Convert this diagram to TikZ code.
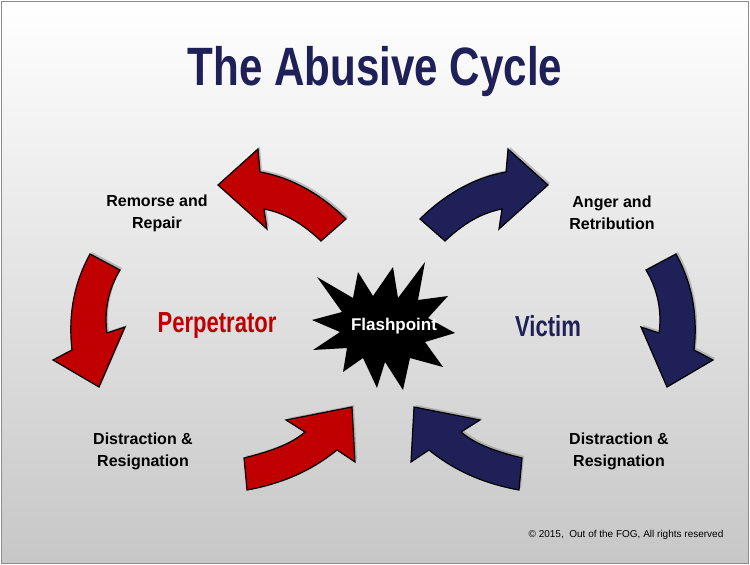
\documentclass[tikz,border=0pt]{standalone}
\usepackage{fontspec}
\setmainfont{Liberation Sans}
\usetikzlibrary{shadows}
\definecolor{navy}{RGB}{32,32,88}
\definecolor{cyclered}{RGB}{192,0,0}
\tikzset{
  arrowshape/.style={draw=black, line width=1.2pt, line join=miter, drop shadow={shadow xshift=2pt, shadow yshift=2pt, opacity=0.45}},
  stage/.style={font=\bfseries\fontsize{16}{22}\selectfont, align=center},
  side/.style={font=\bfseries\fontsize{29}{29}\selectfont}
}
\begin{document}
\begin{tikzpicture}[x=1pt,y=-1pt]
    \useasboundingbox (0,0) rectangle (750,565);
    % background
    \shade[top color=white, bottom color=black!22, draw=black!45, line width=1pt] (1.5,1.5) rectangle (748.5,563.5);
    \node (title) at (375,72) {\scalebox{0.78}[1]{\color{navy}\bfseries\fontsize{54}{54}\selectfont The Abusive Cycle}};

    % perpetrator side
    \fill[cyclered, arrowshape] (260,172) .. controls (295,178) and (325,198) .. (346,219) -- (321,241)
        .. controls (303,224) and (285,213) .. (264,209) -- (267,229) -- (218,185) -- (258,149) -- cycle;
    \fill[cyclered, arrowshape] (90,254) -- (120,270) .. controls (108,290) and (104,312) .. (107,333)
        -- (125,327) -- (99,387) -- (53,360) -- (72,350) .. controls (68,315) and (74,283) .. cycle;
    \fill[cyclered, arrowshape] (244,458) .. controls (268,452) and (290,445) .. (305,432) -- (286,420)
        -- (352,407) -- (355,462) -- (337,450) .. controls (310,472) and (280,484) .. (247,490) -- cycle;

    % victim side
    \begin{scope}[xshift=766pt, xscale=-1]
    \fill[navy, arrowshape] (260,172) .. controls (295,178) and (325,198) .. (346,219) -- (321,241)
        .. controls (303,224) and (285,213) .. (264,209) -- (267,229) -- (218,185) -- (258,149) -- cycle;
    \fill[navy, arrowshape] (90,254) -- (120,270) .. controls (108,290) and (104,312) .. (107,333)
        -- (125,327) -- (99,387) -- (53,360) -- (72,350) .. controls (68,315) and (74,283) .. cycle;
    \fill[navy, arrowshape] (244,458) .. controls (268,452) and (290,445) .. (305,432) -- (286,420)
        -- (352,407) -- (355,462) -- (337,450) .. controls (310,472) and (280,484) .. (247,490) -- cycle;
    \end{scope}

    % flashpoint
    \fill[black] (317,277) -- (353,298) -- (358,272) -- (373,296) -- (393,267) -- (398,298) -- (425,262)
        -- (418,300) -- (448,296) -- (428,318) -- (455,333) -- (425,342) -- (443,367) -- (410,358)
        -- (403,390) -- (385,362) -- (377,388) -- (363,358) -- (343,372) -- (347,348) -- (313,350)
        -- (340,332) -- (312,320) -- (342,312) -- cycle;
    \node[text=white, font=\bfseries\fontsize{17}{17}\selectfont] (flash) at (394,326) {Flashpoint};

    \node[stage] (remorse) at (157,213) {Remorse and\\Repair};
    \node[stage] (anger) at (612,213) {Anger and\\Retribution};
    \node[stage] (distractL) at (143,451) {Distraction \&\\Resignation};
    \node[stage] (distractR) at (619,451) {Distraction \&\\Resignation};
    \node[side] (perp) at (217,326) {\scalebox{0.76}[1]{\color{cyclered}Perpetrator}};
    \node[side] (victim) at (548,326) {\scalebox{0.76}[1]{\color{navy}Victim}};
    \node[font=\fontsize{10}{10}\selectfont] (copy) at (626,535) {© 2015,\ \ Out of the FOG, All rights reserved};
\end{tikzpicture}
\end{document}
